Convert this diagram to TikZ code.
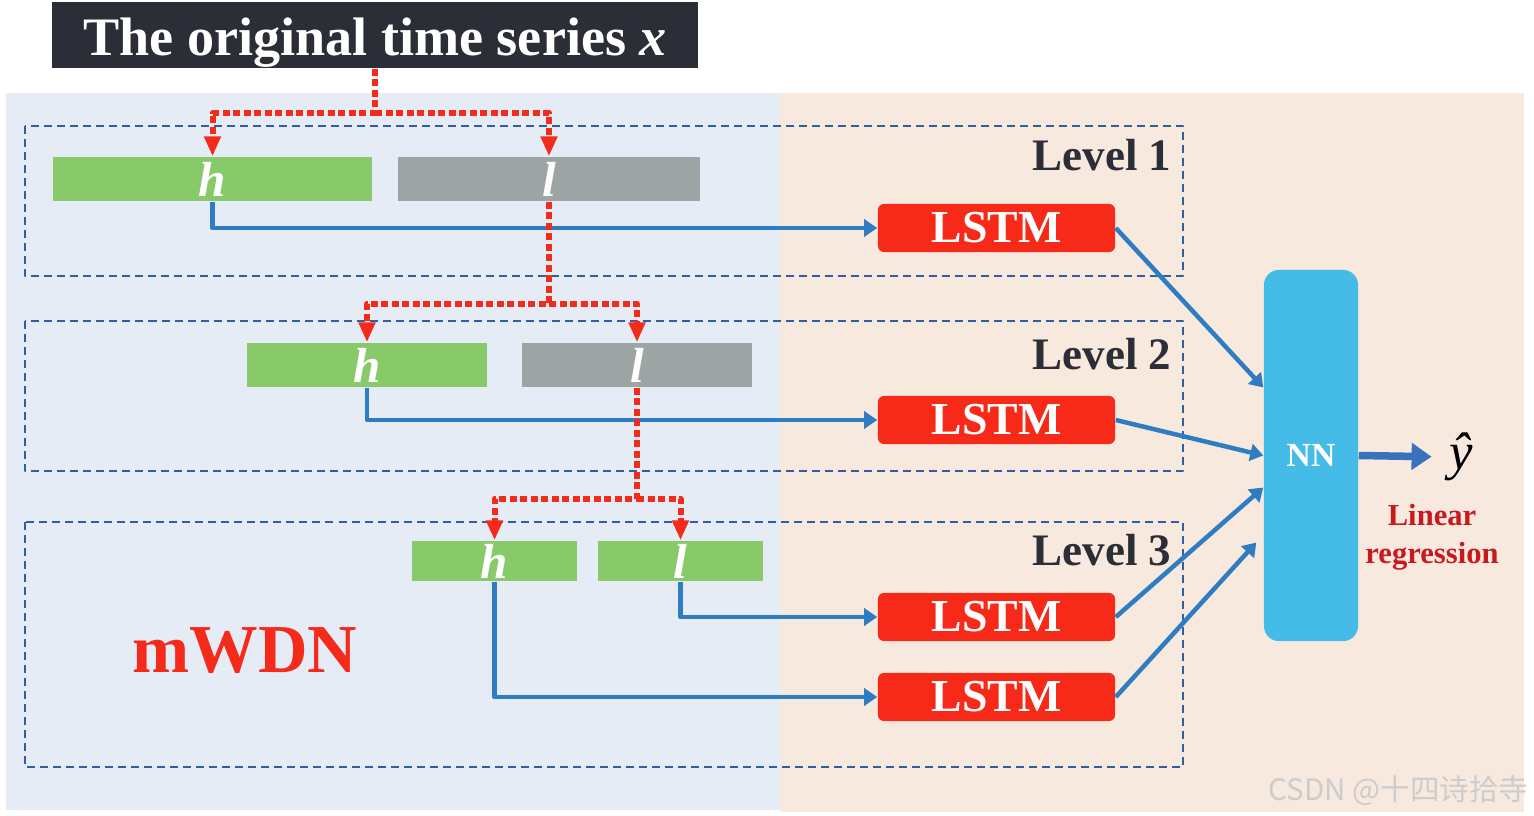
\documentclass[tikz,border=0pt]{standalone}
\usepackage{fontspec}
\setmainfont{Liberation Serif}
\newfontfamily\cjkfont{Noto Sans CJK SC}
\usetikzlibrary{arrows.meta}
\definecolor{titlegray}{HTML}{2B2E37}
\definecolor{leftbg}{HTML}{E6ECF6}
\definecolor{rightbg}{HTML}{F8E9DF}
\definecolor{boxblue}{HTML}{2F5F9F}
\definecolor{barh}{HTML}{88C96A}
\definecolor{barl}{HTML}{9DA5A4}
\definecolor{lstmred}{HTML}{F72A1A}
\definecolor{splitred}{HTML}{F42A1B}
\definecolor{feedblue}{HTML}{2E7CC1}
\definecolor{nnblue}{HTML}{45BBE7}
\definecolor{outblue}{HTML}{3872BA}
\definecolor{lrred}{HTML}{C8191E}
\begin{document}
\begin{tikzpicture}[x=0.01cm, y=-0.01cm, line join=round,
	bar/.style={rectangle, inner sep=0pt, minimum height=0.44cm, text=white, font=\fontsize{14}{14}\selectfont\bfseries\itshape},
	lstm/.style={rectangle, rounded corners=0.06cm, fill=lstmred, text=white, minimum width=2.37cm, minimum height=0.48cm, inner sep=0pt, font=\fontsize{13}{13}\selectfont\bfseries},
	lvlbox/.style={draw=boxblue, line width=0.6pt, dash pattern=on 0.08cm off 0.05cm},
	lvltxt/.style={anchor=base east, inner sep=0pt, text=titlegray, font=\fontsize{12.8}{13}\selectfont\bfseries},
	split/.style={draw=splitred, line width=0.06cm, dash pattern=on 0.07cm off 0.035cm, -{Triangle[length=0.2cm, width=0.16cm]}},
	feed/.style={draw=feedblue, line width=0.045cm, -{Triangle[length=0.13cm, width=0.17cm]}}]
	\useasboundingbox (0,0) rectangle (1534,816);
	\fill[leftbg] (6,93) rectangle (780,810);
	\fill[rightbg] (780,93) rectangle (1524,812);
	\draw[lvlbox] (25,126) rectangle (1183,276);
	\draw[lvlbox] (25,321) rectangle (1183,471);
	\draw[lvlbox] (25,522) rectangle (1183,767);
	\node[fill=titlegray, text=white, inner ysep=0pt, minimum width=6.46cm, text height=0.53cm, text depth=0.13cm, font=\fontsize{15.4}{16}\selectfont\bfseries] (title) at (375,35) {The original time series \textit{x}};
	\node[bar, fill=barh, minimum width=3.19cm] (h1) at (212.5,179) {h};
	\node[bar, fill=barl, minimum width=3.02cm] (l1) at (549,179) {l};
	\node[bar, fill=barh, minimum width=2.40cm] (h2) at (367,365) {h};
	\node[bar, fill=barl, minimum width=2.30cm] (l2) at (637,365) {l};
	\node[bar, fill=barh, minimum width=1.65cm, minimum height=0.40cm] (h3) at (494.5,561) {h};
	\node[bar, fill=barh, minimum width=1.65cm, minimum height=0.40cm] (l3) at (680.5,561) {l};
	\node[lstm] (lstm1) at (996.5,228) {LSTM};
	\node[lstm] (lstm2) at (996.5,420) {LSTM};
	\node[lstm] (lstm3) at (996.5,617) {LSTM};
	\node[lstm] (lstm4) at (996.5,697) {LSTM};
	\node[fill=nnblue, rounded corners=0.15cm, minimum width=0.94cm, minimum height=3.71cm, text=white, font=\fontsize{9.6}{10}\selectfont\bfseries] (nn) at (1311,455.5) {NN};
	\node[inner sep=0pt, font=\fontsize{15}{15}\selectfont\itshape] (yhat) at (1461,457) {ŷ};
	\node[align=center, text=lrred, font=\fontsize{8.7}{10.8}\selectfont\bfseries] (lr) at (1432,537) {Linear\\regression};
	\node[lvltxt] (lv1) at (1172,171) {Level 1};
	\node[lvltxt] (lv2) at (1172,370) {Level 2};
	\node[lvltxt] (lv3) at (1172,565) {Level 3};
	\node[text=splitred, font=\fontsize{19.5}{20}\selectfont\bfseries] (mwdn) at (245,651) {mWDN};
	\node[anchor=base east, inner sep=0pt, text=gray!40, font=\cjkfont\fontsize{8.4}{10}\selectfont] (wm) at (1529,800) {CSDN @十四诗拾寺};
	\draw[feed] (h1.south) |- (lstm1.west);
	\draw[feed] (h2.south) |- (lstm2.west);
	\draw[feed] (l3.south) |- (lstm3.west);
	\draw[feed] (h3.south) |- (lstm4.west);
	\draw[feed] (lstm1.east) -- ([yshift=0.68cm]nn.west);
	\draw[feed] (lstm2.east) -- (nn.west);
	\draw[feed] (lstm3.east) -- ([yshift=-0.32cm]nn.west);
	\draw[feed] (lstm4.east) -- ([xshift=-0.07cm, yshift=-0.87cm]nn.west);
	\draw[draw=outblue, line width=0.075cm, shorten >=0.17cm, -{Triangle[length=0.2cm, width=0.26cm]}] (nn.east) -- (yhat.west);
	\draw[split] (title.south) -- ++(0,44) coordinate (j0) -| (h1.north);
	\draw[split] (j0) -| (l1.north);
	\draw[split] (l1.south) -- ++(0,102) coordinate (j1) -| (h2.north);
	\draw[split] (j1) -| (l2.north);
	\draw[split] (l2.south) -- ++(0,111) coordinate (j2) -| (h3.north);
	\draw[split] (j2) -| (l3.north);
\end{tikzpicture}
\end{document}
